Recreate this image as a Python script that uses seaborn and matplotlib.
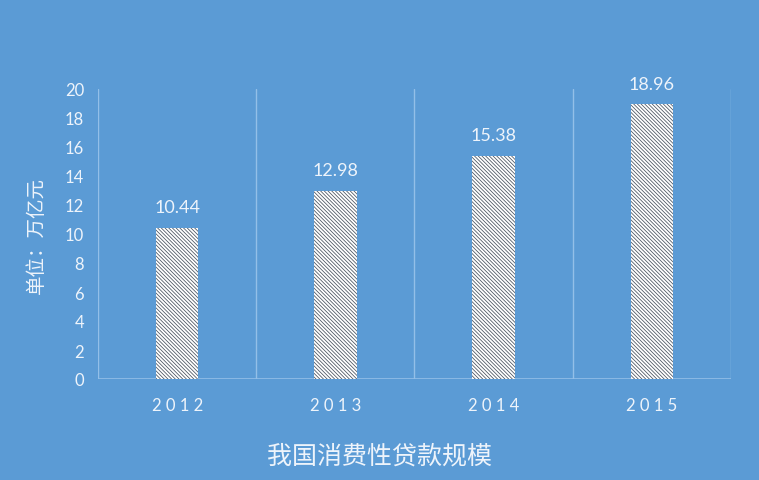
import matplotlib
matplotlib.use("Agg")
import matplotlib.pyplot as plt
import seaborn as sns
import pandas as pd

years = ["2012", "2013", "2014", "2015"]
loans = [10.44, 12.98, 15.38, 18.96]
y_ticks = [0, 2, 4, 6, 8, 10, 12, 14, 16, 18, 20]
title = "我国消费性贷款规模"
unit_label = "单位：万亿元"

BG = "#5B9BD5"
GRID = "#93BFE8"
TXT = "#EEF4FB"
HATCH = "#46505C"

sns.set_theme(style="white")
plt.rcParams["font.family"] = ["Lato", "Noto Sans CJK SC", "DejaVu Sans"]
plt.rcParams["hatch.linewidth"] = 0.55
plt.rcParams["hatch.color"] = HATCH

df = pd.DataFrame({"year": years, "loans": loans})

fig = plt.figure(figsize=(7.59, 4.81), dpi=100)
fig.patch.set_facecolor(BG)
ax = fig.add_axes([98 / 759, 1 - 380 / 481, 633 / 759, 290 / 481])
ax.set_facecolor(BG)

sns.barplot(data=df, x="year", y="loans", color="white", width=0.27,
            saturation=1, ax=ax)
for p in ax.patches:
    p.set_facecolor("white")
    p.set_edgecolor(HATCH)
    p.set_linewidth(0)
    p.set_hatch("\\" * 9)

for i, v in enumerate(loans):
    ax.annotate(f"{v:.2f}", (i, v), xytext=(0, 9), textcoords="offset points",
                ha="center", va="bottom", color=TXT, fontsize=13)

ax.set_xlim(-0.5, len(years) - 0.5)
ax.set_ylim(0, 20)
ax.set_yticks(y_ticks)
ax.set_yticklabels([str(t) for t in y_ticks], color=TXT, fontsize=12)
ax.set_xticks(range(len(years)))
ax.set_xticklabels([" ".join(y) for y in years], color=TXT, fontsize=12)
ax.tick_params(axis="both", length=0)
ax.tick_params(axis="x", pad=13)
ax.tick_params(axis="y", pad=10)

# category separators
for xb in [k - 0.5 for k in range(len(years) + 1)]:
    ax.axvline(xb, color=GRID, lw=1, zorder=0)
for s in ax.spines.values():
    s.set_visible(False)
ax.axhline(0, color=GRID, lw=1.2, zorder=0)

ax.set_xlabel("")
ax.set_ylabel(unit_label, color=TXT, fontsize=14, family=["Noto Sans CJK SC", "DejaVu Sans"])
ax.yaxis.set_label_coords(-51 / 633, 0.5)

fig.text(0.5, 1 - 456 / 481, title, ha="center", va="center", color=TXT,
         fontsize=18, family=["Noto Sans CJK SC", "DejaVu Sans"])

fig.savefig("out.png", dpi=100, facecolor=BG)
